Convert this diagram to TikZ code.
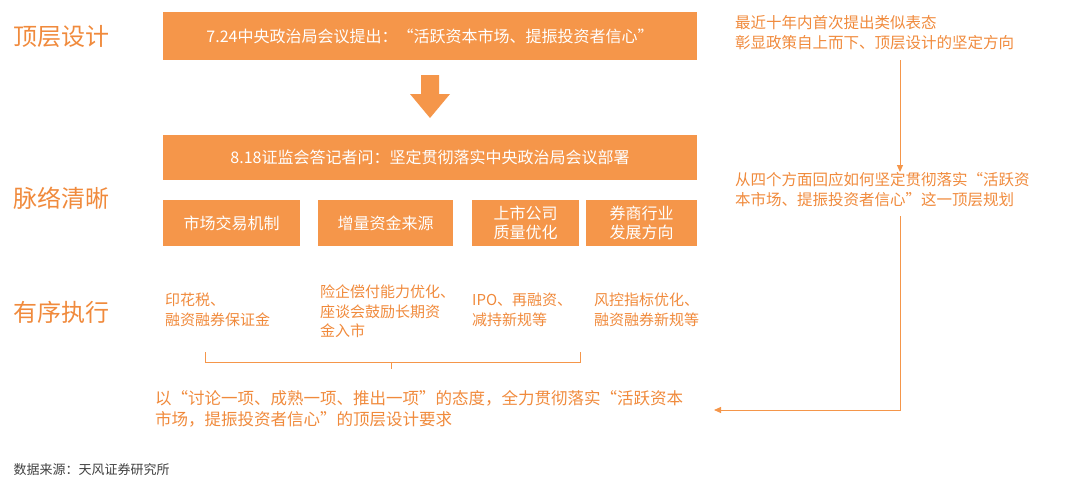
\documentclass[tikz,border=0pt]{standalone}
\usepackage{fontspec}
\newfontfamily\cjk{Noto Sans CJK SC}
\usetikzlibrary{arrows.meta}
\definecolor{org}{HTML}{F5964A}
\definecolor{otx}{HTML}{F08A3C}
\begin{document}
\begin{tikzpicture}[x=1pt,y=-1pt,font=\cjk,
 box/.style={fill=org,draw=none,text=white,font=\cjk\fontsize{16}{19}\selectfont,align=center,inner sep=0pt},
 lab/.style={text=otx,font=\cjk\fontsize{24}{28}\selectfont,anchor=west},
 txt/.style={text=otx,font=\cjk\fontsize{15}{19.5}\selectfont,align=left,anchor=north west,inner sep=0pt},
 ln/.style={draw=org,line width=1pt}]
\useasboundingbox (0,0) rectangle (1080,482);
\node[box,minimum width=534pt,minimum height=48pt] (t1) at (430,36) {7.24中央政治局会议提出：“活跃资本市场、提振投资者信心”};
\node[box,minimum width=534pt,minimum height=45pt] (t2) at (430,157) {8.18证监会答记者问：坚定贯彻落实中央政治局会议部署};
\fill[org] (421,75) -- (439,75) -- (439,94) -- (450,94) -- (430,118) -- (410,94) -- (421,94) -- cycle;
\node[box,minimum width=137pt,minimum height=46pt] (b1) at (231.5,223) {市场交易机制};
\node[box,minimum width=135pt,minimum height=46pt] (b2) at (385.5,223) {增量资金来源};
\node[box,minimum width=107pt,minimum height=46pt] (b3) at (525.5,223) {上市公司\\质量优化};
\node[box,minimum width=111pt,minimum height=46pt] (b4) at (641.5,223) {券商行业\\发展方向};
\node[lab] (l1) at (10,37) {顶层设计};
\node[lab] (l2) at (10,198) {脉络清晰};
\node[lab] (l3) at (10,312) {有序执行};
\node[txt] (d1) at (165,293) {印花税、\\融资融券保证金};
\node[txt] (d2) at (320,285) {险企偿付能力优化、\\座谈会鼓励长期资\\金入市};
\node[txt] (d3) at (472,293) {IPO、再融资、\\减持新规等};
\node[txt] (d4) at (594,293) {风控指标优化、\\融资融券新规等};
\node[txt,font=\cjk\fontsize{16.5}{21}\selectfont] (bt) at (155,390) {以“讨论一项、成熟一项、推出一项”的态度，全力贯彻落实“活跃资本\\市场，提振投资者信心”的顶层设计要求};
\node[txt,font=\cjk\fontsize{15.5}{20}\selectfont] (r1) at (735,15) {最近十年内首次提出类似表态\\彰显政策自上而下、顶层设计的坚定方向};
\node[txt,font=\cjk\fontsize{15.5}{20}\selectfont] (r2) at (735,172) {从四个方面回应如何坚定贯彻落实“活跃资\\本市场、提振投资者信心”这一顶层规划};
\node[anchor=west,font=\cjk\fontsize{13}{15}\selectfont,text=black!75] (src) at (10,470) {数据来源：天风证券研究所};
\coordinate (c1) at (900,60);
\coordinate (c2) at (900,216);
\coordinate (c3) at (900,410);
\coordinate (c4) at (714,410);
\draw[ln,-{Triangle[length=7pt,width=6pt]}] (c1) -- (r2.north -| c1);
\draw[ln,-{Triangle[length=7pt,width=6pt]}] (c2) -- (c3) -- (c4);
\coordinate (k1) at (205,352);
\coordinate (k2) at (580,352);
\coordinate (km) at (391,362);
\draw[draw=org,line width=0.8pt] (k1) -- (k1|-km) -- (k2|-km) -- (k2);
\draw[draw=org,line width=0.8pt] (km) -- ++(0,7);
\end{tikzpicture}
\end{document}
